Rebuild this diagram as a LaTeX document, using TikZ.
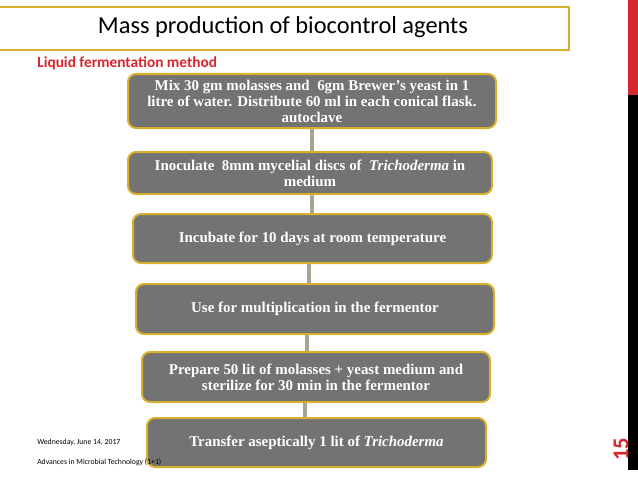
\documentclass[tikz,border=0pt]{standalone}
\usepackage{fontspec}
\setmainfont{Liberation Serif}
\newfontfamily\carl{Carlito}
\begin{document}
\begin{tikzpicture}[x=0.75pt,y=-0.75pt,
  stepbox/.style={draw=boxgold,line width=1.5pt,fill=boxgray,rounded corners=6pt,text=white,font=\bfseries\fontsize{11.2pt}{12pt}\selectfont,align=center,inner sep=0pt},
  conn/.style={draw=conngray,line width=3.2pt}]
\definecolor{boxgold}{HTML}{D9B02E}
\definecolor{boxgray}{HTML}{737373}
\definecolor{conngray}{HTML}{A6A594}
\definecolor{redc}{HTML}{D7262E}
\useasboundingbox (0,0) rectangle (638,478);
\fill[white] (0,0) rectangle (638,478);
\fill[redc] (628,0) rectangle (638,95);
\fill[black] (628,95) rectangle (638,470);
\draw[draw=boxgold,line width=1pt] (-2,7) rectangle (569,50);
\node (title) at (283,27) {\carl\fontsize{18.3pt}{20pt}\selectfont Mass production of biocontrol agents};
\node[anchor=west,text=redc,inner sep=0pt] (sub) at (37,63) {\carl\bfseries\fontsize{11.5pt}{12pt}\selectfont Liquid fermentation method};
\node[stepbox,minimum width=368*0.75pt,minimum height=54*0.75pt] (b1) at (312,101) {Mix 30 gm molasses and\ \ 6gm Brewer’s yeast in 1\\litre of water. Distribute 60 ml in each conical flask.\\autoclave};
\node[stepbox,minimum width=364*0.75pt,minimum height=42*0.75pt] (b2) at (310,173) {Inoculate\ \ 8mm mycelial discs of\ \ \textit{Trichoderma} in\\medium};
\node[stepbox,minimum width=359*0.75pt,minimum height=49*0.75pt] (b3) at (312.5,238.5) {Incubate for 10 days at room temperature};
\node[stepbox,minimum width=358*0.75pt,minimum height=50*0.75pt] (b4) at (315,309) {Use for multiplication in the fermentor};
\node[stepbox,minimum width=348*0.75pt,minimum height=50*0.75pt] (b5) at (316,377) {Prepare 50 lit of molasses + yeast medium and\\sterilize for 30 min in the fermentor};
\node[stepbox,minimum width=339*0.75pt,minimum height=49*0.75pt] (b6) at (316.5,442.5) {Transfer aseptically 1 lit of \textit{Trichoderma}};
\draw[conn] (b1.south -| 312,0) -- (b2.north -| 312,0);
\draw[conn] (b2.south -| 312,0) -- (b3.north -| 312,0);
\draw[conn] (b3.south -| 309,0) -- (b4.north -| 309,0);
\draw[conn] (b4.south -| 307,0) -- (b5.north -| 307,0);
\draw[conn] (b5.south -| 305,0) -- (b6.north -| 305,0);
\node[anchor=west,inner sep=0pt,font=\carl\fontsize{5.8pt}{6pt}\selectfont] (d) at (37,442) {Wednesday, June 14, 2017};
\node[anchor=west,inner sep=0pt,font=\carl\fontsize{5.8pt}{6pt}\selectfont] (a) at (37,462) {Advances in Microbial Technology (1+1)};
\node[rotate=90,text=redc,inner sep=0pt,font=\carl\bfseries\fontsize{17pt}{18pt}\selectfont] (p) at (621,449) {15};
\end{tikzpicture}
\end{document}
